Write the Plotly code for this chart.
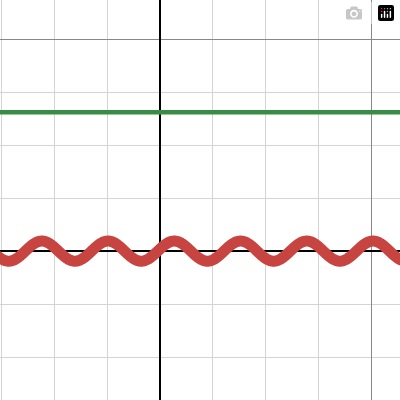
import numpy as np
import plotly.graph_objects as go

# curve parameters (grid unit = one minor square)
green_level = 2.62
wave_amp = 0.19
wave_period = 1.25
wave_peak_x = 0.27

x_range = [-3.02, 4.53]
y_range = [-2.81, 4.74]

xs = np.linspace(x_range[0] - 1, x_range[1] + 1, 1200)
wave = wave_amp * np.cos(2 * np.pi * (xs - wave_peak_x) / wave_period)

fig = go.Figure()
fig.add_trace(go.Scatter(x=[xs[0], xs[-1]], y=[green_level, green_level], mode="lines",
                         line=dict(color="#388c46", width=4.5)))
fig.add_trace(go.Scatter(x=xs, y=wave, mode="lines",
                         line=dict(color="#c74440", width=11, simplify=False)))

ax = dict(dtick=4, tick0=0, showgrid=True, gridcolor="#888", gridwidth=1,
          minor=dict(dtick=1, tick0=0, showgrid=True, gridcolor="#d4d4d4", gridwidth=1),
          zeroline=True, zerolinecolor="black", zerolinewidth=2,
          showticklabels=False, ticks="", fixedrange=True)
fig.update_xaxes(**ax)
fig.update_yaxes(**ax)
fig.update_xaxes(range=x_range)
fig.update_yaxes(range=y_range)
fig.update_layout(width=400, height=400, margin=dict(l=0, r=0, t=0, b=0),
                  plot_bgcolor="white", paper_bgcolor="white", showlegend=False)
fig.write_html("out.html", post_script="document.body.style.margin='0';")
